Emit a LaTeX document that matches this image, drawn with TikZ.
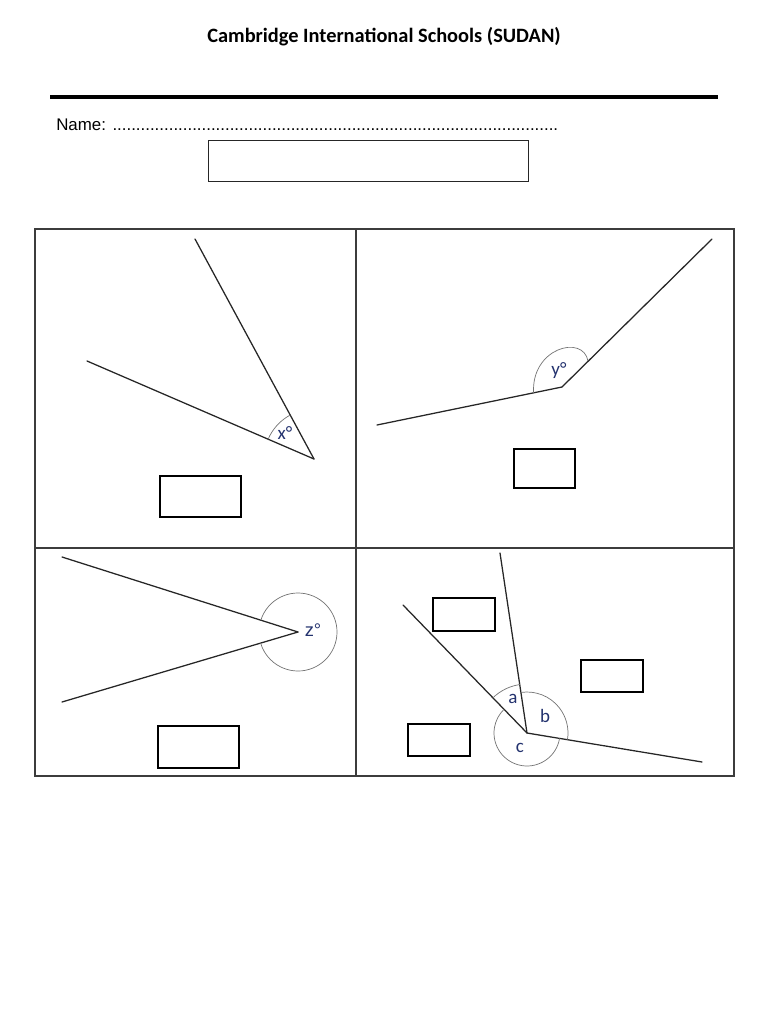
\documentclass[tikz,border=0pt]{standalone}
\usepackage{fontspec}
\setmainfont{Liberation Sans}
\newfontfamily\titleFont{Carlito}
\usepackage{tikz}
\usetikzlibrary{positioning}
\tikzstyle{sheet} = [x = 0.025cm, y = -0.025cm]
\definecolor{frameColor}{RGB}{60,60,60}
\definecolor{labelColor}{RGB}{35,50,110}
\tikzstyle{headerRule} = [color=black, line width=2.8pt]
\tikzstyle{nameBoxStyle} = [color=black!85, line width=0.7pt]
\tikzstyle{frameLine} = [color=frameColor, line width=1pt]
\tikzstyle{rayLine} = [color=black!85, line width=0.9pt, line cap=round]
\tikzstyle{arcLine} = [color=black!55, line width=0.5pt]
\tikzstyle{answerBoxStyle} = [color=black, line width=1.6pt]
\tikzstyle{angleText} = [color=labelColor, font=\titleFont\fontsize{13.5}{13.5}\selectfont, inner sep=0pt]
\newcommand{\answerBox}[4]{\draw [answerBoxStyle] (#1,#2) rectangle (#3,#4);}
\newcommand{\ray}[2]{\draw [rayLine] (#1) -- (#2);}
\newcommand{\angleArc}[4]{\draw [arcLine] (#1) ++(#2:#4) arc [start angle=#2, end angle=#3, radius=#4];}
\newcommand{\nameDots}{\hbox to 358pt{Name: \leaders\hbox{.}\hfill}}

\begin{document}
\begin{tikzpicture}[sheet]
  \useasboundingbox (0,0) rectangle (768,1024);
  % header
  \node (title) at (384,37) {\titleFont\bfseries\fontsize{14.5}{16}\selectfont Cambridge International Schools (SUDAN)};
  \draw [headerRule] (50,97) -- (718,97);
  \node [anchor=base west, inner sep=0pt, font=\fontsize{12}{14}\selectfont] (nameLine) at (56,131) {\nameDots};
  \draw [nameBoxStyle] (208,140) rectangle (528,181);

  % grid
  \draw [frameLine] (35,229) rectangle (734,776);
  \draw [frameLine] (356,229) -- (356,776);
  \draw [frameLine] (35,548) -- (734,548);

  % angle x
  \coordinate (vertexX) at (314,459);
  \coordinate (upperX) at (195,239);
  \coordinate (lowerX) at (87,361);
  \ray{upperX}{vertexX}
  \ray{lowerX}{vertexX}
  \angleArc{vertexX}{-156.7}{-118.4}{50}
  \node [angleText] (labelX) at (285,433) {x°};
  \answerBox{160}{476}{241}{517}

  % angle y
  \coordinate (vertexY) at (562,387);
  \coordinate (leftY) at (377,425);
  \coordinate (upperY) at (712,239);
  \ray{leftY}{vertexY}
  \ray{upperY}{vertexY}
  \draw [arcLine] (vertexY) ++(168.4:29) .. controls (531,348) and (583,334) .. (588,361);
  \node [angleText] (labelY) at (559,371) {y°};
  \answerBox{514}{449}{575}{488}

  % angle z
  \coordinate (vertexZ) at (298,632);
  \coordinate (upperZ) at (62,557);
  \coordinate (lowerZ) at (62,702);
  \ray{upperZ}{vertexZ}
  \ray{lowerZ}{vertexZ}
  \angleArc{vertexZ}{197.6}{523.5}{39}
  \node [angleText, font=\fontsize{13}{13}\selectfont] (labelZ) at (313,630) {z°};
  \answerBox{158}{726}{239}{768}

  % angles a, b, c
  \coordinate (vertexABC) at (527,733);
  \coordinate (leftABC) at (403,605);
  \coordinate (upperABC) at (500,553);
  \coordinate (rightABC) at (702,762);
  \ray{leftABC}{vertexABC}
  \ray{upperABC}{vertexABC}
  \ray{rightABC}{vertexABC}
  \angleArc{vertexABC}{225.9}{261.6}{49}
  \angleArc{vertexABC}{261.6}{369.4}{41}
  \angleArc{vertexABC}{9.4}{225.9}{33}
  \node [angleText] (labelA) at (513,699) {a};
  \node [angleText] (labelB) at (545,716) {b};
  \node [angleText] (labelC) at (520,748) {c};
  \answerBox{433}{598}{495}{631}
  \answerBox{581}{660}{643}{692}
  \answerBox{408}{724}{470}{756}
\end{tikzpicture}
\end{document}
